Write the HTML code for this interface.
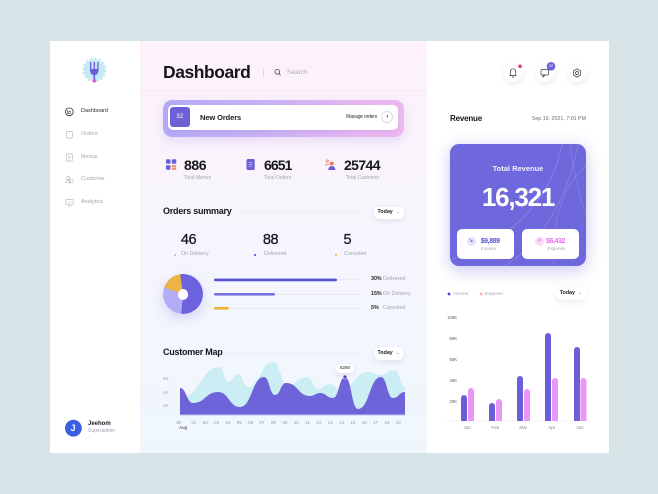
<!DOCTYPE html>
<html><head><meta charset="utf-8">
<style>
*{margin:0;padding:0;box-sizing:border-box}
body{width:658px;height:494px;overflow:hidden;background:#d6e3e7;font-family:"Liberation Sans",sans-serif;position:relative}
.a{position:absolute}
.t{position:absolute;line-height:1;white-space:nowrap}
.g{color:#a4a4b2}
.b{font-weight:bold}
.pill{position:absolute;background:#fff;border-radius:7px;box-shadow:0 2px 6px rgba(90,80,160,.12);font-size:5.3px;font-weight:bold;color:#222;line-height:1;display:flex;align-items:center;justify-content:center;gap:3px}
.pill span{font-weight:normal;color:#888;font-size:5px}
</style></head><body>
<!-- card -->
<div class="a" style="left:50px;top:41px;width:559px;height:412px;background:#fff"></div>
<div class="a" style="left:140px;top:41px;width:287px;height:412px;background:linear-gradient(180deg,#fdf1fa 0%,#faf3fc 25%,#f5f5fd 55%,#eff7fd 100%)"></div>
<div class="a" style="left:140px;top:90px;width:287px;height:1px;background:rgba(200,180,210,.12)"></div>

<!-- full page graphics -->
<svg class="a" style="left:0;top:0" width="658" height="494" viewBox="0 0 658 494">
  <defs>
    <clipPath id="cb"><rect x="440" y="300" width="160" height="121"/></clipPath>
    <filter id="sh" x="-50%" y="-50%" width="200%" height="200%"><feDropShadow dx="0" dy="2" stdDeviation="2.5" flood-color="#6050a0" flood-opacity=".12"/></filter>
  </defs>
  <!-- logo -->
  <circle cx="94.3" cy="70" r="10.8" fill="#c6e9f4"/>
  <circle cx="94.3" cy="70" r="11.3" fill="none" stroke="#c6e9f4" stroke-width="2" stroke-dasharray="2.3 2.1"/>
  <path d="M90,62 L90,70 Q90,75 94.3,75 Q98.6,75 98.6,70 L98.6,62 L97.3,62 L97.3,69 L95,69 L95,62 L93.6,62 L93.6,69 L91.3,69 L91.3,62 Z" fill="#6b5fd8"/>
  <rect x="93.5" y="74" width="1.6" height="5" fill="#6b5fd8"/>
  <circle cx="94.3" cy="80.8" r="1.9" fill="#e25ce0"/>
  <!-- nav icons -->
  <circle cx="69.3" cy="111.8" r="3.9" fill="none" stroke="#333" stroke-width=".8"/>
  <path d="M67.5,110 L67.5,113.5 L71.3,113.5 M68.2,112.5 L69.5,111 L70.8,112.3" fill="none" stroke="#333" stroke-width=".6"/>
  <rect x="66.3" y="131.5" width="6" height="6.6" rx=".8" fill="none" stroke="#b9b9c4" stroke-width=".7"/>
  <rect x="66.3" y="154" width="6" height="7" rx=".8" fill="none" stroke="#b9b9c4" stroke-width=".7"/>
  <path d="M67.8,156.2 H70.8 M67.8,157.6 H70.8 M67.8,159 H70" stroke="#b9b9c4" stroke-width=".5"/>
  <circle cx="68.3" cy="178" r="1.6" fill="none" stroke="#b9b9c4" stroke-width=".7"/>
  <path d="M65.8,182.8 Q66,180.2 68.3,180.2 Q70.6,180.2 70.8,182.8 Z" fill="none" stroke="#b9b9c4" stroke-width=".7"/>
  <rect x="69.5" y="179.5" width="3.5" height="3.5" rx=".6" fill="none" stroke="#b9b9c4" stroke-width=".6"/>
  <rect x="65.8" y="199.5" width="7.4" height="5.4" rx=".8" fill="none" stroke="#b9b9c4" stroke-width=".7"/>
  <path d="M68,206 H71 M67.5,203.5 L69,202 L70,203 L71.5,201.5" fill="none" stroke="#b9b9c4" stroke-width=".5"/>
  <!-- avatar -->
  <circle cx="73.4" cy="428.2" r="8.4" fill="#3b5de0"/>
  <!-- search -->
  <rect x="263" y="69" width=".8" height="8" fill="#dcd6e2"/>
  <circle cx="277.3" cy="71.8" r="2.4" fill="none" stroke="#444" stroke-width=".8"/>
  <path d="M279,73.6 L280.6,75.2" stroke="#444" stroke-width=".8"/>
  <!-- stats icons -->
  <rect x="166" y="159.3" width="4.5" height="4.5" rx="1" fill="#6b5fd8"/>
  <rect x="171.8" y="159.3" width="4.5" height="4.5" rx="1" fill="#6b5fd8"/>
  <rect x="166" y="165.3" width="4.5" height="4.5" rx="1" fill="#6b5fd8"/>
  <rect x="171.8" y="165.3" width="4.5" height="2" rx=".5" fill="#f08a6c"/>
  <rect x="171.8" y="167.8" width="4.5" height="2" rx=".5" fill="#f08a6c"/>
  <rect x="246.5" y="159" width="8.2" height="11" rx="1.5" fill="#6b5fd8"/>
  <path d="M248.8,162.5 H252.5 M248.8,164.5 H252.5 M248.8,166.5 H251.5" stroke="#fff" stroke-width=".6"/>
  <circle cx="327.3" cy="161" r="1.8" fill="#f6a9b5"/>
  <path d="M325,166 Q325,163.3 327.3,163.3 Q329,163.3 329.3,165" fill="#f6a9b5"/>
  <circle cx="331.8" cy="163.5" r="1.9" fill="#f0784c"/>
  <path d="M328.3,170 Q328.5,166 331.8,166 Q335.1,166 335.3,170 Z" fill="#6b5fd8"/>
  <!-- summary dots -->
  <circle cx="175" cy="255" r="1" fill="#8ccbe9"/>
  <circle cx="255" cy="255" r="1" fill="#4a43c9"/>
  <circle cx="336" cy="255" r="1" fill="#eeb23a"/>
  <!-- progress bars -->
  <rect x="214" y="279.5" width="146" height=".8" fill="#e4e3ee"/>
  <rect x="214" y="278.6" width="123" height="2.6" rx="1.3" fill="#5350d3"/>
  <rect x="214" y="293.9" width="146" height=".8" fill="#e4e3ee"/>
  <rect x="214" y="293" width="61" height="2.6" rx="1.3" fill="#7a73e0"/>
  <rect x="214" y="307.9" width="146" height=".8" fill="#e4e3ee"/>
  <rect x="214" y="307" width="15" height="2.6" rx="1.3" fill="#edb33c"/>
  <!-- title lines -->
  <rect x="235" y="211.5" width="128" height=".6" fill="#ebe8f1"/>
  <rect x="226" y="353" width="137" height=".6" fill="#e6eaf2"/>
  <!-- customer map -->
  <path d="M180,415 L180,398 C200,398 200,367 220,367 C224,367 224,382 228,382 C233,382 233,374 238,374 C243,374 243,387 248,387 C260.5,387 260.5,362 273,362 C280.5,362 280.5,385 288,385 C297.5,385 297.5,377 307,377 C312.5,377 312.5,389 318,389 C324,389 324,384 330,384 C335,384 335,390 340,390 C354,390 354,372 368,372 C374,372 374,375 380,375 C387.5,375 387.5,370 395,370 C400,370 400,387 405,387 L405,415 Z" fill="#cbeef4"/>
  <path d="M180,415 L180,388 C186.5,388 186.5,403 193,403 C205.5,403 205.5,392 218,392 C229,392 229,407 240,407 C252,407 252,377 264,377 C269.5,377 269.5,395 275,395 C280.5,395 280.5,383 286,383 C298,383 298,396 310,396 C315,396 315,393 320,393 C326.5,393 326.5,398 333,398 C339,398 339,377 345,377 C351.5,377 351.5,409 358,409 C369.5,409 369.5,377 381,377 C387,377 387,398 393,398 C399,398 399,392 405,392 L405,415 Z" fill="#6f63da"/>
  <rect x="180" y="414.5" width="225" height="1" fill="#c9c4ef"/>
  <rect x="336" y="364" width="18" height="9" rx="4.5" fill="#fff" filter="url(#sh)"/>
  <circle cx="345" cy="377" r="2" fill="#4b45d0" stroke="#fff" stroke-width=".6"/>
  <!-- right icons -->
  <circle cx="513" cy="73" r="9" fill="#fff" filter="url(#sh)"/>
  <circle cx="545" cy="73" r="9" fill="#fff" filter="url(#sh)"/>
  <circle cx="577" cy="73" r="9" fill="#fff" filter="url(#sh)"/>
  <path d="M510.3,75.5 L510.3,72 Q510.3,68.8 513,68.8 Q515.7,68.8 515.7,72 L515.7,75.5 Z M509.5,75.5 H516.5 M512,77 H514" fill="none" stroke="#333" stroke-width=".7"/>
  <circle cx="520" cy="66.3" r="1.8" fill="#e3405e"/>
  <rect x="541" y="69.5" width="7.5" height="5.5" rx="1" fill="none" stroke="#333" stroke-width=".7"/>
  <path d="M543,75 L543,77 L545,75" fill="none" stroke="#333" stroke-width=".7"/>
  <circle cx="551" cy="66.3" r="4.3" fill="#6c63dc"/>
  <circle cx="577" cy="73" r="1.5" fill="none" stroke="#333" stroke-width=".7"/>
  <path d="M577,68.8 L580.6,70.9 L580.6,75.1 L577,77.2 L573.4,75.1 L573.4,70.9 Z" fill="none" stroke="#333" stroke-width=".7"/>
  <!-- bars -->
  <rect x="445" y="420.6" width="145" height=".6" fill="#eeeef4"/>
  <g clip-path="url(#cb)">
    <rect x="461" y="395" width="6" height="30" rx="3" fill="#6b5fd8"/>
    <rect x="468" y="388" width="6" height="37" rx="3" fill="#e897f5"/>
    <rect x="489" y="403" width="6" height="22" rx="3" fill="#6b5fd8"/>
    <rect x="496" y="399" width="6" height="26" rx="3" fill="#e897f5"/>
    <rect x="517" y="376" width="6" height="49" rx="3" fill="#6b5fd8"/>
    <rect x="524" y="389" width="6" height="36" rx="3" fill="#e897f5"/>
    <rect x="545" y="333" width="6" height="92" rx="3" fill="#6b5fd8"/>
    <rect x="552" y="378" width="6" height="47" rx="3" fill="#e897f5"/>
    <rect x="574" y="347" width="6" height="78" rx="3" fill="#6b5fd8"/>
    <rect x="580.5" y="378" width="6" height="47" rx="3" fill="#e897f5"/>
  </g>
  <circle cx="449" cy="294" r="1.4" fill="#3d3ddf"/>
  <circle cx="481" cy="294" r="1.4" fill="#f9b2a8"/>
</svg>

<!-- sidebar text -->
<div class="t" style="left:81px;top:109.3px;font-size:5.5px;color:#2a2a33">Dashboard</div>
<div class="t g" style="left:81px;top:132px;font-size:5.5px">Orders</div>
<div class="t g" style="left:81px;top:154.6px;font-size:5.5px">Menus</div>
<div class="t g" style="left:81px;top:177.3px;font-size:5.5px">Customer</div>
<div class="t g" style="left:81px;top:200px;font-size:5.5px">Analytics</div>
<div class="t b" style="left:70.5px;top:424px;font-size:9px;color:#fff">J</div>
<div class="t b" style="left:88px;top:421px;font-size:6px;color:#1e1e26">Jeehom</div>
<div class="t g" style="left:88px;top:428.8px;font-size:5px">Superadmin</div>

<!-- header -->
<div class="t b" style="left:163px;top:63.9px;font-size:17.5px;color:#15151c;letter-spacing:-0.45px">Dashboard</div>
<div class="t" style="left:287px;top:69.8px;font-size:6.5px;color:#a9a9b6">Search</div>

<!-- new orders -->
<div class="a" style="left:163px;top:100px;width:241px;height:37px;border-radius:9px;background:linear-gradient(90deg,#b4aaf5,#c9b2f4 45%,#e2b5f1 75%,#efb7ee);box-shadow:0 4px 10px rgba(180,150,240,.28)"></div>
<div class="a" style="left:168px;top:105px;width:230px;height:25px;border-radius:5px;background:#fff;box-shadow:0 2px 3px rgba(120,90,200,.12)"></div>
<div class="a" style="left:169.5px;top:107.3px;width:20.5px;height:20px;border-radius:3px;background:#6d60d6"></div>
<div class="t" style="left:169.5px;width:20.5px;text-align:center;top:114.2px;font-size:6.3px;color:#fff">32</div>
<div class="t b" style="left:200px;top:113.6px;font-size:7.5px;color:#1c1c24;letter-spacing:-0.1px">New Orders</div>
<div class="t" style="left:346px;top:114.9px;font-size:5px;color:#2f2f38;letter-spacing:-0.2px">Manage orders</div>
<div class="a" style="left:381.3px;top:111.3px;width:12px;height:12px;border-radius:50%;border:.8px solid #dcd7f0;background:#fff"></div>
<div class="t b" style="left:381.3px;width:12px;text-align:center;top:113.7px;font-size:6.5px;color:#333">›</div>

<!-- stats -->
<div class="t b" style="left:184px;top:158.2px;font-size:14px;color:#16161d;letter-spacing:-0.4px">886</div>
<div class="t g" style="left:184px;top:175.6px;font-size:5px">Total Menus</div>
<div class="t b" style="left:264px;top:158.2px;font-size:14px;color:#16161d;letter-spacing:-0.9px">6651</div>
<div class="t g" style="left:264px;top:175.6px;font-size:5px">Total Orders</div>
<div class="t b" style="left:344px;top:158.2px;font-size:14px;color:#16161d;letter-spacing:-0.6px">25744</div>
<div class="t g" style="left:345.7px;top:175.6px;font-size:5px">Total Customer</div>

<!-- orders summary -->
<div class="t b" style="left:163px;top:207.1px;font-size:9px;color:#16161d;letter-spacing:-0.25px">Orders summary</div>
<div class="pill" style="left:373.5px;top:206.5px;width:30.5px;height:12.5px">Today<span>⌄</span></div>
<div class="t" style="left:168px;width:41px;text-align:center;top:233.4px;font-size:14.5px;color:#16161d;letter-spacing:-0.4px;-webkit-text-stroke:.25px #16161d">46</div>
<div class="t" style="left:250px;width:41px;text-align:center;top:233.4px;font-size:14.5px;color:#16161d;letter-spacing:-0.4px;-webkit-text-stroke:.25px #16161d">88</div>
<div class="t" style="left:327px;width:41px;text-align:center;top:233.4px;font-size:14.5px;color:#16161d;-webkit-text-stroke:.25px #16161d">5</div>
<div class="t g" style="left:181px;top:252.4px;font-size:5.3px">On Delivery</div>
<div class="t g" style="left:264px;top:252.4px;font-size:5.3px">Delivered</div>
<div class="t g" style="left:344px;top:252.4px;font-size:5.3px">Canceled</div>
<div class="a" style="left:163px;top:274.3px;width:40px;height:40px;border-radius:50%;background:conic-gradient(from -8deg,#6d62dd 0deg 193deg,#b3acf6 193deg 297deg,#ecb445 297deg 360deg);box-shadow:0 5px 12px rgba(110,98,222,.22)"></div>
<div class="a" style="left:177.7px;top:289px;width:10.5px;height:10.5px;border-radius:50%;background:#fff"></div>
<div class="t b" style="left:371px;top:277.4px;font-size:5.3px;color:#222">30%</div>
<div class="t g" style="left:383px;top:277.4px;font-size:5.3px">Delivered</div>
<div class="t b" style="left:371px;top:291.7px;font-size:5.3px;color:#222">15%</div>
<div class="t g" style="left:383px;top:291.7px;font-size:5.3px">On Delivery</div>
<div class="t b" style="left:371px;top:305.7px;font-size:5.3px;color:#222">5%</div>
<div class="t g" style="left:383px;top:305.7px;font-size:5.3px">Canceled</div>

<!-- customer map -->
<div class="t b" style="left:163px;top:348.1px;font-size:9px;color:#16161d;letter-spacing:-0.25px">Customer Map</div>
<div class="pill" style="left:373.5px;top:347px;width:30.5px;height:13px">Today<span>⌄</span></div>
<div class="t g" style="left:163px;top:376.8px;font-size:4.5px">6K</div>
<div class="t g" style="left:163px;top:390.5px;font-size:4.5px">4K</div>
<div class="t g" style="left:163px;top:403.8px;font-size:4.5px">2K</div>
<div class="t" style="left:336px;width:18px;text-align:center;top:366.3px;font-size:4.5px;color:#222">6280</div>
<div class="a" style="left:172px;top:420.8px;width:240px;height:6px;font-size:4.5px;line-height:1;color:#9a9aa8">
<span class="t" style="left:6.7px;width:8px;margin-left:-4px;text-align:center">30</span><span class="t" style="left:22px;width:8px;margin-left:-4px;text-align:center">01</span><span class="t" style="left:33.3px;width:8px;margin-left:-4px;text-align:center">02</span><span class="t" style="left:44.7px;width:8px;margin-left:-4px;text-align:center">03</span><span class="t" style="left:56px;width:8px;margin-left:-4px;text-align:center">04</span><span class="t" style="left:67.3px;width:8px;margin-left:-4px;text-align:center">05</span><span class="t" style="left:78.7px;width:8px;margin-left:-4px;text-align:center">06</span><span class="t" style="left:90px;width:8px;margin-left:-4px;text-align:center">07</span><span class="t" style="left:101.3px;width:8px;margin-left:-4px;text-align:center">08</span><span class="t" style="left:113px;width:8px;margin-left:-4px;text-align:center">09</span><span class="t" style="left:124.3px;width:8px;margin-left:-4px;text-align:center">10</span><span class="t" style="left:135.7px;width:8px;margin-left:-4px;text-align:center">11</span><span class="t" style="left:147px;width:8px;margin-left:-4px;text-align:center">12</span><span class="t" style="left:158.3px;width:8px;margin-left:-4px;text-align:center">13</span><span class="t" style="left:169.7px;width:8px;margin-left:-4px;text-align:center">14</span><span class="t" style="left:181px;width:8px;margin-left:-4px;text-align:center">15</span><span class="t" style="left:192.3px;width:8px;margin-left:-4px;text-align:center">16</span><span class="t" style="left:203.7px;width:8px;margin-left:-4px;text-align:center">17</span><span class="t" style="left:215px;width:8px;margin-left:-4px;text-align:center">18</span><span class="t" style="left:226.3px;width:8px;margin-left:-4px;text-align:center">19</span>
</div>
<div class="t" style="left:179px;top:426.3px;font-size:4.5px;color:#333">Aug</div>

<!-- right panel -->
<div class="t" style="left:547px;width:8px;text-align:center;top:64.6px;font-size:3.6px;color:#fff">32</div>
<div class="t b" style="left:450px;top:115.4px;font-size:8px;color:#16161d;letter-spacing:-0.2px">Revenue</div>
<div class="t" style="left:486px;width:100px;text-align:right;top:116.7px;font-size:5.3px;color:#6e6e7a">Sep 19, 2021, 7:01 PM</div>

<div class="a" style="left:450px;top:144px;width:136px;height:122px;border-radius:9px;background:#6f67dc;box-shadow:0 6px 16px rgba(111,103,220,.25),0 0 14px rgba(180,175,235,.25);overflow:hidden">
  <svg width="136" height="122" viewBox="0 0 136 122" style="position:absolute;left:0;top:0">
    <path d="M112,0 C104,45 70,95 0,116" fill="none" stroke="rgba(255,255,255,.28)" stroke-width=".6"/>
    <path d="M128,0 C118,55 90,100 55,122" fill="none" stroke="rgba(255,255,255,.25)" stroke-width=".6"/>
    <path d="M136,22 C112,40 100,85 104,122" fill="none" stroke="rgba(255,255,255,.22)" stroke-width=".6"/>
    <path d="M120,0 C125,40 132,60 136,70" fill="none" stroke="rgba(255,255,255,.2)" stroke-width=".6"/>
  </svg>
</div>
<div class="t b" style="left:450px;width:136px;text-align:center;top:164.6px;font-size:7.5px;color:#f1efff">Total Revenue</div>
<div class="t b" style="left:450px;width:136px;text-align:center;top:184px;font-size:26px;color:#fff;letter-spacing:-1.2px">16,321</div>
<div class="a" style="left:456.7px;top:229px;width:57.6px;height:30px;border-radius:5px;background:#fff"></div>
<div class="a" style="left:522px;top:229px;width:57.3px;height:30px;border-radius:5px;background:#fff"></div>
<div class="a" style="left:466.5px;top:236.5px;width:9px;height:9px;border-radius:50%;background:#e6e4f7"></div>
<div class="t b" style="left:466.5px;width:9px;text-align:center;top:238.7px;font-size:5px;color:#5a56d8">↘</div>
<div class="a" style="left:534.8px;top:236.5px;width:9px;height:9px;border-radius:50%;background:#fadcf7"></div>
<div class="t b" style="left:534.8px;width:9px;text-align:center;top:238.7px;font-size:5px;color:#e26ef0">↗</div>
<div class="t b" style="left:480.7px;top:237.6px;font-size:7px;color:#5a56d8;letter-spacing:-0.4px">$9,889</div>
<div class="t g" style="left:476px;width:25px;text-align:center;top:247.2px;font-size:4.6px">Income</div>
<div class="t b" style="left:546px;top:237.6px;font-size:7px;color:#e46ef2;letter-spacing:-0.4px">$6,432</div>
<div class="t g" style="left:544px;width:25px;text-align:center;top:247.2px;font-size:4.6px">Expense</div>

<div class="t g" style="left:453.3px;top:291.8px;font-size:4.6px">Income</div>
<div class="t g" style="left:485px;top:291.8px;font-size:4.6px">Expense</div>
<div class="pill" style="left:556px;top:288px;width:30px;height:11.5px">Today<span>⌄</span></div>
<div class="t" style="left:437px;width:20px;text-align:right;top:315.9px;font-size:4.2px;color:#555">100K</div>
<div class="t" style="left:437px;width:20px;text-align:right;top:336.9px;font-size:4.2px;color:#555">80K</div>
<div class="t" style="left:437px;width:20px;text-align:right;top:357.9px;font-size:4.2px;color:#555">60K</div>
<div class="t" style="left:437px;width:20px;text-align:right;top:378.9px;font-size:4.2px;color:#555">40K</div>
<div class="t" style="left:437px;width:20px;text-align:right;top:399.9px;font-size:4.2px;color:#555">20K</div>
<div class="t g" style="left:459.3px;width:16px;text-align:center;top:426.2px;font-size:4.5px;color:#888">Jan</div>
<div class="t g" style="left:487.3px;width:16px;text-align:center;top:426.2px;font-size:4.5px;color:#888">Feb</div>
<div class="t g" style="left:515.3px;width:16px;text-align:center;top:426.2px;font-size:4.5px;color:#888">Mar</div>
<div class="t g" style="left:543.7px;width:16px;text-align:center;top:426.2px;font-size:4.5px;color:#888">Apr</div>
<div class="t g" style="left:572px;width:16px;text-align:center;top:426.2px;font-size:4.5px;color:#888">Jun</div>
</body></html>
